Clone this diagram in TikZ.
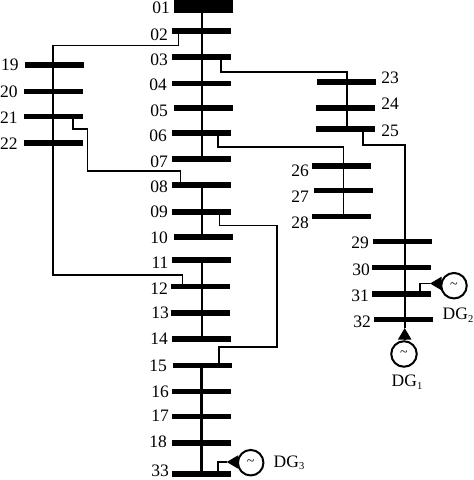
\documentclass[tikz,border=0pt]{standalone}
\usepackage{fontspec}
\setmainfont{Liberation Serif}
\usetikzlibrary{arrows.meta}
\tikzset{
  x=1pt,y=-1pt,
  busbar/.style={fill=black,draw=none,inner sep=0pt,minimum width=59pt,minimum height=5.4pt},
  trunk/.style={line width=2.4pt,draw=black},
  tie/.style={line width=1.9pt,draw=black,line join=miter},
  lab/.style={inner sep=0pt,font=\fontsize{17.5}{18}\selectfont},
  gen/.style={circle,draw=black,line width=2pt,minimum size=25.5pt,inner sep=0pt,font=\fontsize{14}{14}\selectfont},
  tipin/.style={-{Triangle[length=11.5pt,width=13pt]},line width=1.9pt},
}
\newcommand{\dgsub}[1]{DG\raisebox{-2.5pt}{\fontsize{10.5}{11}\selectfont #1}}
\begin{document}
\begin{tikzpicture}
\useasboundingbox (0,0) rectangle (474,480);
% busbars: name/centre x/centre y
\foreach \n/\cx/\cy in {
 02/201.5/31,03/201.5/57,04/201.5/83.5,05/203.5/108,06/201.5/133,07/201.5/159,
 08/201.5/185,09/201.5/212,10/203.5/237,11/201.5/260,12/200.5/286.7,13/200.5/313,14/201.5/339,
 15/202.5/365.5,16/201/391.5,17/201/416.7,18/201/443,33/201.5/474,
 19/54.5/65,20/53/91.5,21/53/116.5,22/53/143,
 23/346.5/82,24/345/108,25/345/129,
 26/341.7/166,27/343.2/190.5,28/341.7/216.7,
 29/402.2/241.7,30/401.5/267.7,31/401.5/294,32/403.5/319.3}
  {\node[busbar] (b\n) at (\cx,\cy) {};}
\node[busbar,minimum height=13pt] (b01) at (203.5,6.5) {};
% labels
\foreach \n/\cx/\cy in {
 01/161/8,02/159/35,03/159/60,04/158/85,05/159/111,06/158/136,07/159/162,08/159/187,09/159/212,10/159/238,
 11/160/262.7,12/159/289,13/160/313,14/159/339,15/158/365.7,16/160/392,17/160/416,18/158/442,33/160/470.5,
 19/10/65,20/9/92,21/9/118,22/9/144,
 23/390/78,24/390/104,25/390/131,26/300/171,27/300/197,28/300/223,
 29/360/243,30/361/270,31/360/296,32/362/322}
  {\node[lab] (l\n) at (\cx,\cy) {\n};}
% generators
\node[gen] (dg1) at (404,354) {\textasciitilde};
\node[gen] (dg2) at (454,285.7) {\textasciitilde};
\node[gen] (dg3) at (250.7,462.7) {\textasciitilde};
\node[lab] (ldg1) at (407,382) {\dgsub{1}};
\node[lab] (ldg2) at (458,315) {\dgsub{2}};
\node[lab] (ldg3) at (289,463) {\dgsub{3}};
% trunks
\draw[trunk] (202,6.5) coordinate (ta) -- (ta |- b07.center);
\draw[trunk] (202,185) coordinate (tb) -- (tb |- b10.center);
\draw[trunk] (201.7,260) coordinate (tc) -- (tc |- b14.center);
\draw[trunk] (201.5,365.5) coordinate (td) -- (td |- b33.center);
% lateral 19-22 and tie from 02 to 12
\coordinate (s02) at (178.5,31);
\coordinate (s12) at (182.5,286.7);
\draw[tie] (s02) -- (178.5,45.5) -- (53,45.5) -- (53,275) -- (182.5,275) -- (s12);
% 21 to 08
\coordinate (s21) at (73,116.5);
\coordinate (s08) at (180.5,185);
\draw[tie] (s21) -- (73,129) -- (87.5,129) -- (87.5,171) -- (180.5,171) -- (s08);
% 03 to 23-25
\coordinate (s03) at (221,57);
\coordinate (e25) at (346.7,129);
\draw[tie] (s03) -- (221,72) -- (346.7,72) -- (e25);
% 25 to 29-32
\coordinate (s25) at (363,129);
\coordinate (e32) at (404.7,319.3);
\draw[tie] (s25) -- (363,145) -- (404.7,145) -- (e32);
% 06 to 26-28
\coordinate (s06) at (218,133);
\coordinate (e28) at (343.5,216.7);
\draw[tie] (s06) -- (218,147.3) -- (343.5,147.3) -- (e28);
% 09 to 15
\coordinate (s09) at (219.5,212);
\coordinate (e15) at (218.7,365.5);
\draw[tie] (s09) -- (219.5,225.5) -- (277.3,225.5) -- (277.3,347.3) -- (218.7,347.3) -- (e15);
% DG connections
\coordinate (a1) at (404.7,340);
\coordinate (q1) at (404.7,328);
\draw[tipin] (a1) -- (q1);
\draw[tie] (q1) -- (e32);
\coordinate (a2) at (441.5,283.5);
\coordinate (q2) at (430,283.5);
\coordinate (s31) at (420,294);
\draw[tipin] (a2) -- (q2);
\draw[tie] (q2) -- (420,283.5) -- (s31);
\coordinate (a3) at (238.2,462);
\coordinate (q3) at (226.7,462);
\coordinate (s33) at (217.7,474);
\draw[tipin] (a3) -- (q3);
\draw[tie] (q3) -- (217.7,462) -- (s33);
\end{tikzpicture}
\end{document}
